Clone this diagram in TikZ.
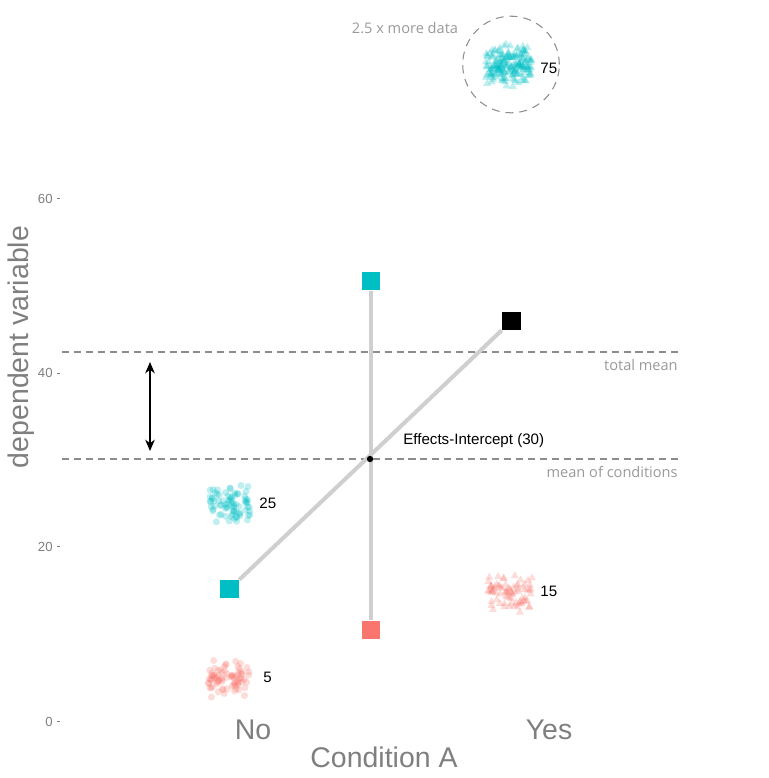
\documentclass[tikz,border=0pt]{standalone}
\usepackage{fontspec}
\setmainfont{Liberation Sans}
\newfontfamily\annfont{Open Sans}
\usetikzlibrary{arrows.meta}
\definecolor{cy}{HTML}{00BFC4}
\definecolor{rd}{HTML}{F8766D}
\definecolor{axgray}{HTML}{7F7F7F}
\definecolor{anngray}{HTML}{999999}
\definecolor{dashgray}{HTML}{8C8C8C}
\definecolor{linegray}{HTML}{CFCFCF}

\begin{document}
\begin{tikzpicture}[x=0.02cm, y=-0.02cm,
    sq/.style={rectangle, minimum size=10.8pt, inner sep=0pt},
    num/.style={anchor=west, inner sep=0pt, font=\fontsize{8.6}{10}\selectfont},
    ann/.style={inner sep=0pt, text=anngray, font=\annfont\fontsize{8.3}{10}\selectfont},
    ax/.style={inner sep=0pt, text=axgray, font=\fontsize{16.2}{19}\selectfont},
    tick/.style={anchor=east, inner sep=0pt, text=axgray, font=\fontsize{7.5}{9}\selectfont},
    meanline/.style={draw=dashgray, line width=0.6pt, dash pattern=on 4pt off 2.8pt},
    effect/.style={draw=linegray, line width=2.3pt}]

    \useasboundingbox (0,0) rectangle (768,778);

    % Raw data
    \pgfmathsetseed{7}
    \foreach \cx/\cy/\col/\n in {230/503/cy/80, 228/677/rd/80} {
        \foreach \i in {1,...,\n} {
            \pgfmathsetmacro\px{\cx+21*rand}
            \pgfmathsetmacro\py{\cy+11*(rand+rand)}
            \fill[\col, fill opacity=0.25] (\px,\py) circle (2pt);
        }
    }
    \foreach \cx/\cy/\col/\n in {510/591/rd/80, 509/65/cy/200} {
        \foreach \i in {1,...,\n} {
            \pgfmathsetmacro\px{\cx+23*rand}
            \pgfmathsetmacro\py{\cy+11*(rand+rand)}
            \fill[\col, fill opacity=0.25] (\px,\py) ++(0,-4.5) -- ++(4,7) -- ++(-8,0) -- cycle;
        }
    }
    \node[num] (N25) at (259,503) {25};
    \node[num] (N5) at (263,677) {5};
    \node[num] (N15) at (540,591) {15};
    \node[num] (N75) at (540,68) {75};
    \node[circle, draw=dashgray, line width=0.6pt, dash pattern=on 4.5pt off 3.4pt,
          minimum size=55pt, inner sep=0pt] (C) at (511,64.5) {};
    \node[ann] (MD) at (405,28) {2.5 x more data};

    % Means
    \coordinate (T1) at (62,352);
    \coordinate (T2) at (678,352);
    \coordinate (M1) at (62,459);
    \coordinate (M2) at (678,459);
    \draw[meanline] (T1) -- (T2);
    \draw[meanline] (M1) -- (M2);
    \node[ann, anchor=east] (TM) at (678,365) {total mean};
    \node[ann, anchor=east] (MC) at (678,471.5) {mean of conditions};
    \coordinate (A1) at (150,362);
    \coordinate (A2) at (150,451);
    \draw[{Stealth[length=6.5pt,width=5.5pt]}-{Stealth[length=6.5pt,width=5.5pt]}, line width=0.6pt] (A1) -- (A2);

    % Effects
    \node[sq, fill=cy] (NoM) at (229.5,589) {};
    \node[sq, fill=black] (YesM) at (511.5,321) {};
    \node[sq, fill=cy] (CyM) at (371,281) {};
    \node[sq, fill=rd] (RdM) at (371,630) {};
    \draw[effect] (NoM) -- (YesM);
    \draw[effect] (CyM) -- (RdM);
    \node[circle, fill=black, inner sep=0pt, minimum size=3.6pt] (I) at (370,459) {};
    \node[num] (EI) at (403,441) {Effects-Intercept (30)};

    % Axes
    \foreach \v/\yy in {0/721.5, 20/546.5, 40/373, 60/198.5} {
        \node[tick] (L\v) at (53,\yy) {\v};
        \draw[axgray, line width=0.4pt] (57,\yy) -- (60,\yy);
    }
    \node[ax] (No) at (253,730) {No};
    \node[ax] (Yes) at (549,730) {Yes};
    \node[ax] (CA) at (384,757) {Condition A};
    \node[ax, rotate=90] (DV) at (21,347) {dependent variable};

\end{tikzpicture}
\end{document}
